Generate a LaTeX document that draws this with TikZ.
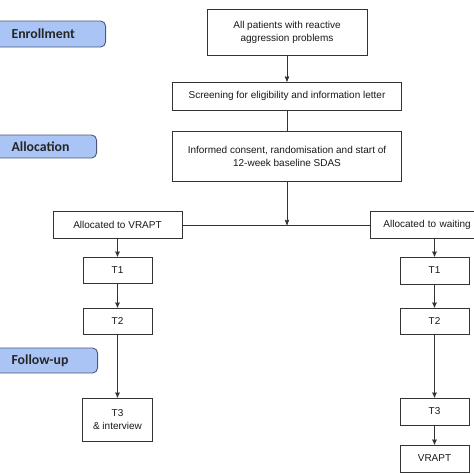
\documentclass[tikz,border=0pt]{standalone}
\usepackage{fontspec}
\setmainfont{Liberation Sans}
\newfontfamily\phasefont{Carlito}
\usepackage{tikz}
\usetikzlibrary{arrows}
\definecolor{phaseblue}{HTML}{A9C4F5}
\definecolor{phaseline}{HTML}{4A5A78}
\definecolor{boxline}{HTML}{333333}

\begin{document}
\begin{tikzpicture}[x=1pt,y=-1pt,->,>=stealth',shorten >=0pt,line width=0.9pt,
  draw=boxline,
  flow box/.style={rectangle,draw=boxline,fill=white,font=\fontsize{10}{13}\selectfont,
  align=center,inner sep=1pt,text=black!90},
  phase box/.style={rectangle,draw=phaseline,fill=phaseblue,rounded corners=5pt,
  font=\phasefont\bfseries\fontsize{13.8}{15}\selectfont,text=black!85,
  align=left,inner xsep=22pt,inner ysep=0pt,anchor=east}]

  \useasboundingbox[fill=white] (0,0) rectangle (474,474);

  % phases
  \node[phase box,text width=72pt,minimum height=26pt] (Enroll) at (106,34) {Enrollment};
  \node[phase box,text width=63pt,minimum height=23pt] (Alloc) at (97,146.5) {Allocation};
  \node[phase box,text width=64pt,minimum height=25pt] (Follow) at (98,360.5) {Follow-up};

  % main column
  \node[flow box,minimum width=160pt,minimum height=46pt] (Patients) at (287,32)
    {All patients with reactive\\aggression problems};
  \node[flow box,minimum width=229pt,minimum height=28pt] (Screen) at (287,96)
    {Screening for eligibility and information letter};
  \node[flow box,minimum width=229pt,minimum height=50pt] (Consent) at (287,156)
    {Informed consent, randomisation and start of\\12-week baseline SDAS};

  % arms
  \node[flow box,minimum width=129pt,minimum height=27pt] (Vrapt) at (117.5,225) {Allocated to VRAPT};
  \node[flow box,anchor=west,text width=117pt,align=left,inner xsep=13pt,
    minimum height=27pt] (Waiting) at (370,225) {Allocated to waiting};

  \node[flow box,minimum width=69pt,minimum height=26pt] (Lone) at (117.5,270) {T1};
  \node[flow box,minimum width=69pt,minimum height=26pt] (Ltwo) at (117.5,321) {T2};
  \node[flow box,minimum width=70pt,minimum height=43pt] (Lthree) at (117.5,419.5) {T3\\\& interview};

  \node[flow box,minimum width=69pt,minimum height=27pt] (Rone) at (434.5,270.5) {T1};
  \node[flow box,minimum width=69pt,minimum height=26pt] (Rtwo) at (434.5,321) {T2};
  \node[flow box,minimum width=69pt,minimum height=27pt] (Rthree) at (434.5,411.5) {T3};
  \node[flow box,minimum width=69pt,minimum height=27pt] (Rfour) at (434.5,458.5) {VRAPT};

  \coordinate (Split) at (Consent.south |- Vrapt.east);

  \path
    (Patients) edge (Screen)
    (Screen) edge[-] (Consent)
    (Consent) edge (Split)
    (Vrapt.east) edge[-] (Waiting.west)
    (Vrapt) edge (Lone)
    (Lone) edge (Ltwo)
    (Ltwo) edge (Lthree)
    (Rone |- Waiting.south) edge (Rone)
    (Rone) edge (Rtwo)
    (Rtwo) edge (Rthree)
    (Rthree) edge (Rfour);
\end{tikzpicture}
\end{document}
